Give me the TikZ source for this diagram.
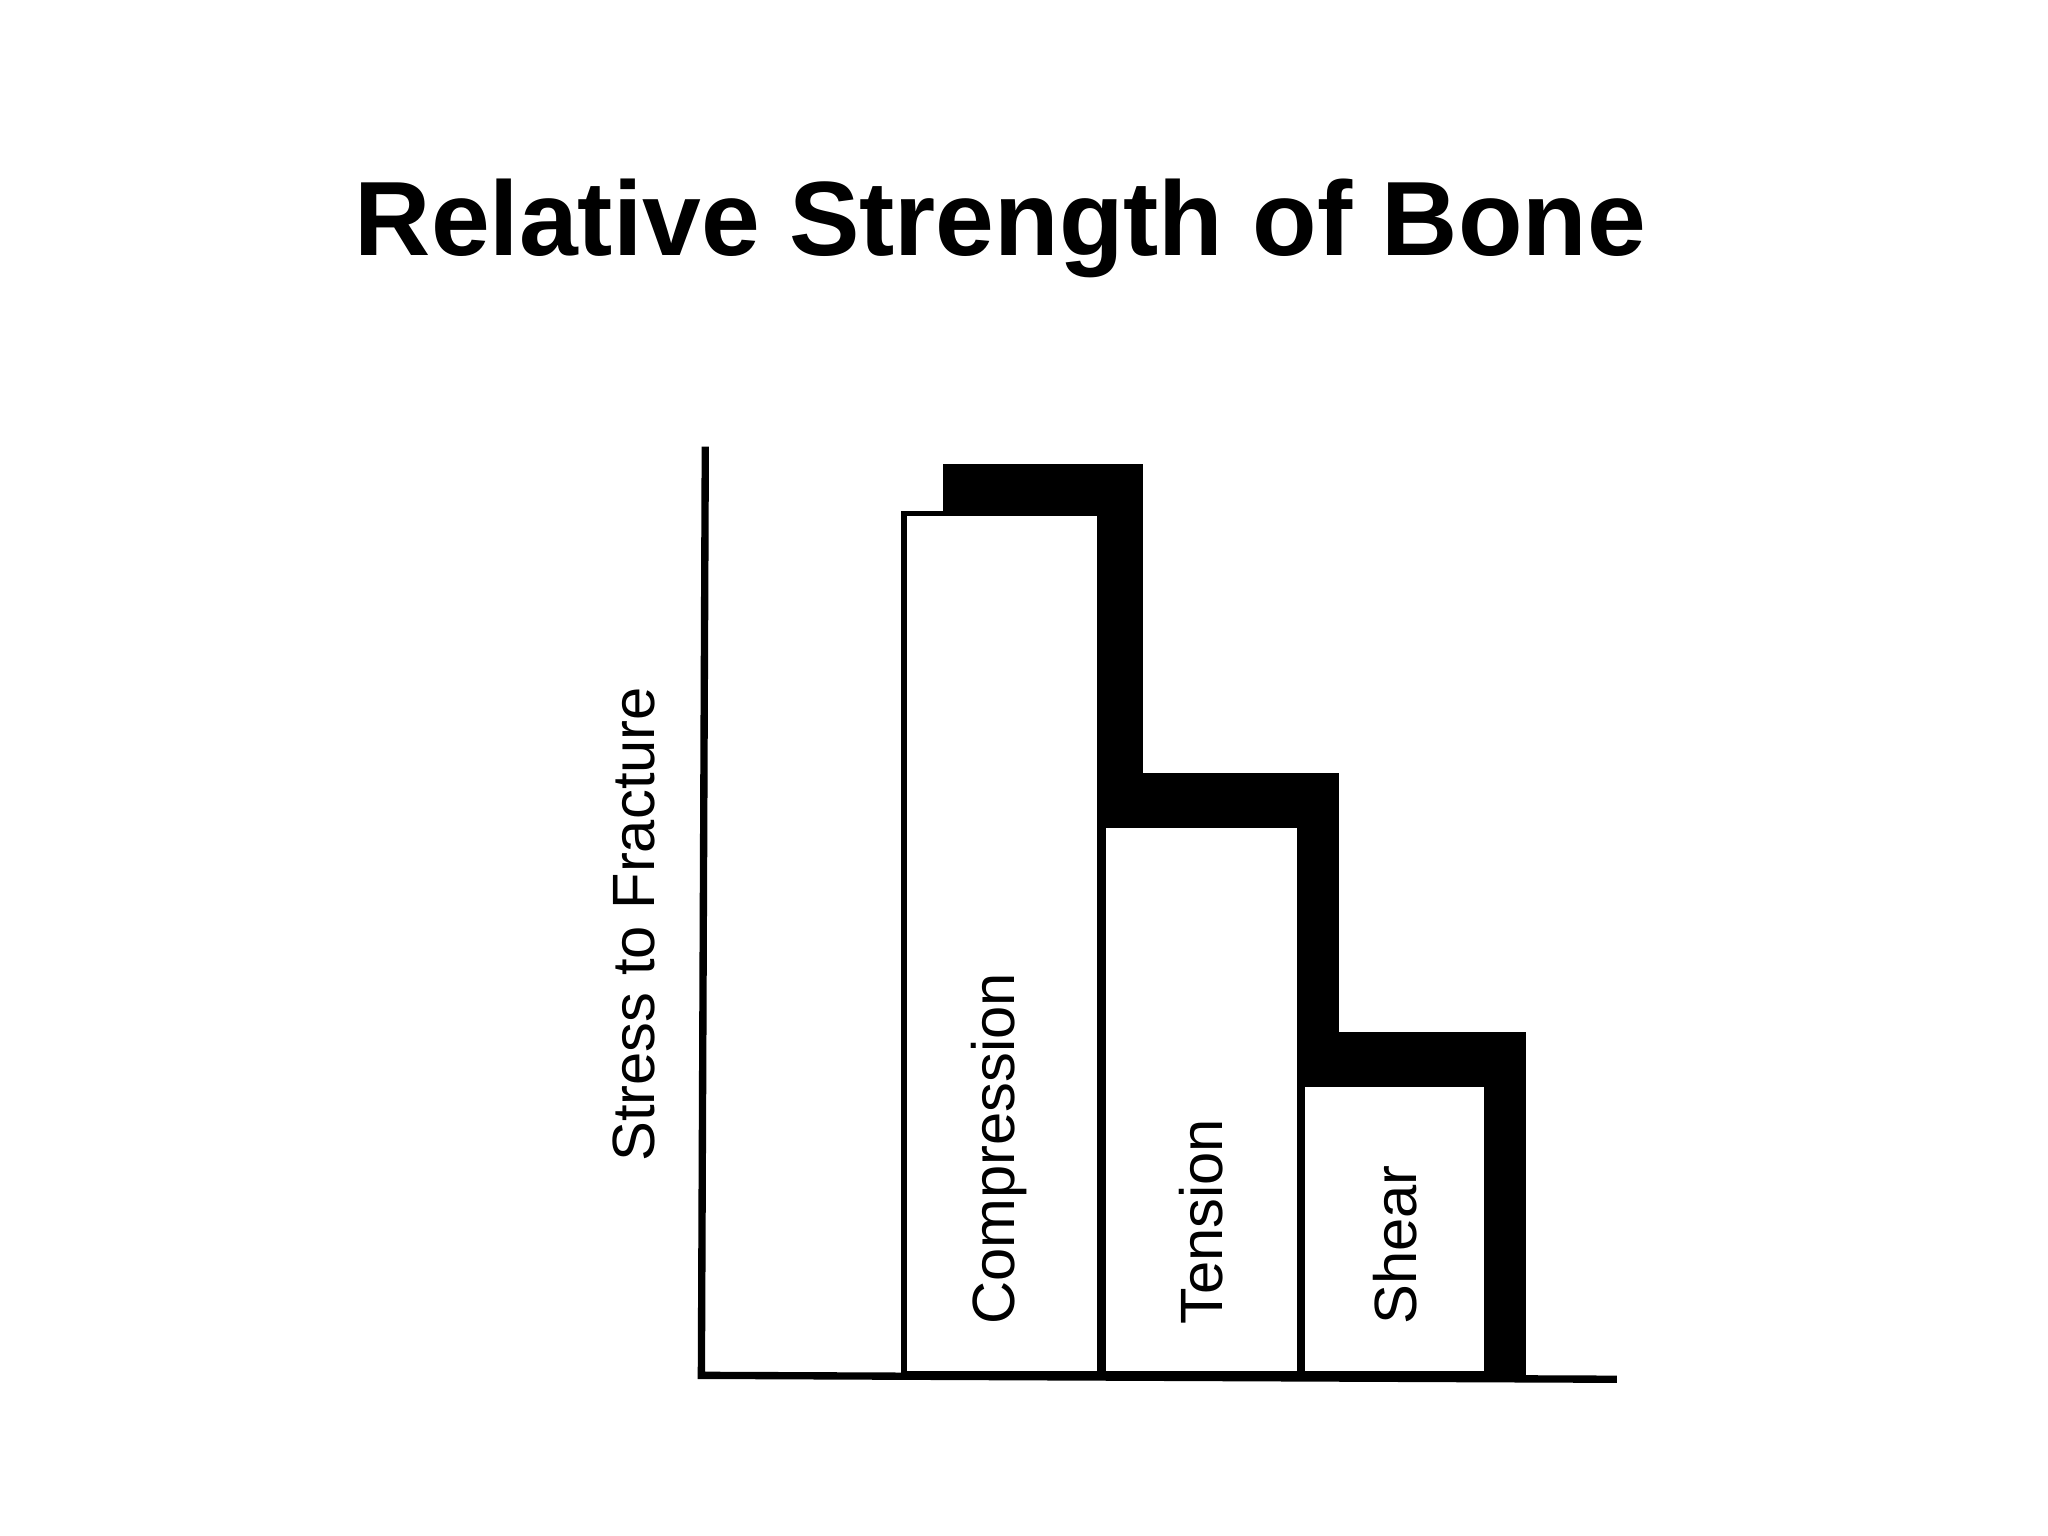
\documentclass[tikz,border=0pt]{standalone}
\usepackage{fontspec}
\setmainfont{Liberation Sans}
\begin{document}
\begin{tikzpicture}[x=0.01cm,y=-0.01cm,
  bar/.style={draw=black,fill=white,line width=1.2pt},
  shadow/.style={fill=black},
  lab/.style={rotate=90,anchor=west,font=\fontsize{13}{15}\selectfont,inner sep=0pt}]
\useasboundingbox (0,0) rectangle (1568,1176);
\node (title) at (766,175) {\fontsize{23}{27}\bfseries\selectfont Relative Strength of Bone};
% shadows
\fill[shadow] (722,355) rectangle (875,1053);
\fill[shadow] (875,592) rectangle (1025,1053);
\fill[shadow] (1025,790) rectangle (1168,1053);
% bars
\draw[bar] (692,393) rectangle (842,1052);
\draw[bar] (845,632) rectangle (995,1052);
\draw[bar] (997,830) rectangle (1138,1052);
% axes
\coordinate (ytop) at (540,342);
\coordinate (orig) at (537,1053);
\coordinate (xend) at (1238,1056);
\draw[line width=1.6pt] (ytop) -- (orig) -- (xend);
\node[lab] (comp) at (765,1015) {Compression};
\node[lab] (tens) at (920,1015) {Tension};
\node[lab] (shear) at (1068,1015) {Shear};
\node[lab] (ylab) at (485,890) {Stress to Fracture};
\end{tikzpicture}
\end{document}
